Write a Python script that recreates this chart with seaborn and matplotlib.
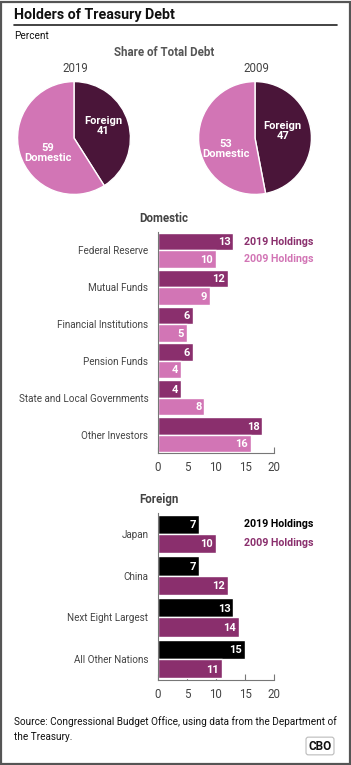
import matplotlib
matplotlib.use("Agg")
import pandas as pd
import seaborn as sns
import matplotlib.pyplot as plt
from matplotlib.patches import Rectangle
from matplotlib.lines import Line2D

#%% data
pie_years = ['2019', '2009']
pie_2019 = [41, 59]   # foreign, domestic
pie_2009 = [47, 53]
pie_names = ['Foreign', 'Domestic']

dom_cats = ['Federal Reserve', 'Mutual Funds', 'Financial Institutions',
            'Pension Funds', 'State and Local Governments', 'Other Investors']
dom_2019 = [13, 12, 6, 6, 4, 18]
dom_2009 = [10, 9, 5, 4, 8, 16]

for_cats = ['Japan', 'China', 'Next Eight Largest', 'All Other Nations']
for_2019 = [7, 7, 13, 15]
for_2009 = [10, 12, 14, 11]

xticks = [0, 5, 10, 15, 20]

#%% style
sns.set_style('white')
plt.rcParams['font.family'] = ['Roboto', 'DejaVu Sans']

dark = '#4a1539'
purple = '#8a2f6d'
pink = '#d275b5'
gray = '#444444'

W, H = 351, 765
fig = plt.figure(figsize=(W / 100, H / 100), dpi=100)

def fx(x):
    return x / W

def fy(y):
    return 1 - y / H

# frame + title
fig.patches.append(Rectangle((0.002, 0.001), 0.995, 0.997, transform=fig.transFigure,
                             fill=False, edgecolor='#555555', linewidth=1.6))
fig.text(fx(14), fy(15), 'Holders of Treasury Debt', fontsize=10.3, fontweight='bold',
         color='#111111', va='center', ha='left')
fig.add_artist(Line2D([fx(14), fx(337)], [fy(25), fy(25)], color='#222222', linewidth=1.2))
fig.text(fx(14), fy(36), 'Percent', fontsize=7.2, color='#111111', va='center')
fig.text(fx(164), fy(52), 'Share of Total Debt', fontsize=8.3, fontweight='bold',
         color='#555555', ha='center', va='center')

#%% pies
pie_specs = [(74, pie_2019, pie_years[0], [(0.52, 0.21), (-0.47, -0.26)]),
             (255, pie_2009, pie_years[1], [(0.49, 0.12), (-0.51, -0.19)])]
for cx, vals, yr, lpos in pie_specs:
    r = 57
    ax = fig.add_axes([fx(cx - r), fy(138 + r), 2 * r / W, 2 * r / H])
    ax.pie(vals, colors=[dark, pink], startangle=90, counterclock=False,
           wedgeprops=dict(edgecolor='white', linewidth=1))
    ax.set_xlim(-1.01, 1.01)
    ax.set_ylim(-1.01, 1.01)
    ax.text(*lpos[0], f'{pie_names[0]}\n{vals[0]}', color='white', fontsize=8,
            fontweight='bold', ha='center', va='center', linespacing=1.0)
    ax.text(*lpos[1], f'{vals[1]}\n{pie_names[1]}', color='white', fontsize=8,
            fontweight='bold', ha='center', va='center', linespacing=1.0)
    fig.text(fx(cx + 1), fy(69), yr, fontsize=8.3, color=gray, ha='center', va='center')

#%% bar panels
def bar_panel(rect, cats, v19, v09, colors, title, width):
    df = pd.DataFrame({'cat': cats * 2, 'value': v19 + v09,
                       'year': ['2019 Holdings'] * len(cats) + ['2009 Holdings'] * len(cats)})
    ax = fig.add_axes(rect)
    sns.barplot(data=df, y='cat', x='value', hue='year', orient='h', palette=colors,
                width=width, saturation=1, legend=False, ax=ax)
    ax.set_xlim(0, 20)
    ax.set_ylim(len(cats) - 0.5, -0.5)
    ax.set_xticks(xticks)
    ax.set_xlabel('')
    ax.set_ylabel('')
    sns.despine(ax=ax)
    for s in ['left', 'bottom']:
        ax.spines[s].set_color('#777777')
        ax.spines[s].set_linewidth(0.8)
    ax.tick_params(axis='x', direction='in', length=4, width=0.8, color='#777777',
                   labelsize=8.3, labelcolor=gray, pad=6, bottom=True)
    ax.tick_params(axis='y', length=0, labelsize=7.1, labelcolor=gray, pad=7)
    for cont in ax.containers:
        for p in cont:
            w = p.get_width()
            ax.text(w - 0.5, p.get_y() + p.get_height() / 2 + 0.02, f'{w:g}', color='white',
                    fontsize=8, fontweight='bold', ha='right', va='center')
    # legend as coloured text beside first group
    for cont, lab, col in zip(ax.containers, ['2019 Holdings', '2009 Holdings'], colors):
        p = cont[0]
        ax.text(14.8, p.get_y() + p.get_height() / 2, lab, color=col, fontsize=7.7,
                fontweight='bold', ha='left', va='center')
    fig.text(fx(139), rect[1] + rect[3] + 13 / H, title, fontsize=8.3, fontweight='bold',
             color='#444444', ha='left', va='center')
    return ax

bar_panel([fx(158), fy(453), 116 / W, 221 / H], dom_cats, dom_2019, dom_2009,
          [purple, pink], 'Domestic', 0.95)
bar_panel([fx(158), fy(680), 116 / W, 167 / H], for_cats, for_2019, for_2009,
          ['#000000', purple], 'Foreign', 0.92)

#%% source
fig.text(fx(14), fy(722), 'Source: Congressional Budget Office, using data from the Department of',
         fontsize=7.2, color='#111111', va='center')
fig.text(fx(14), fy(737), 'the Treasury.', fontsize=7.2, color='#111111', va='center')
fig.text(fx(320), fy(746), 'CBO', fontsize=8.5, fontweight='bold', color='#111111',
         ha='center', va='center',
         bbox=dict(boxstyle='round,pad=0.2', facecolor='white', edgecolor='#bbbbbb', linewidth=0.8))

fig.savefig('out.png', dpi=100)
